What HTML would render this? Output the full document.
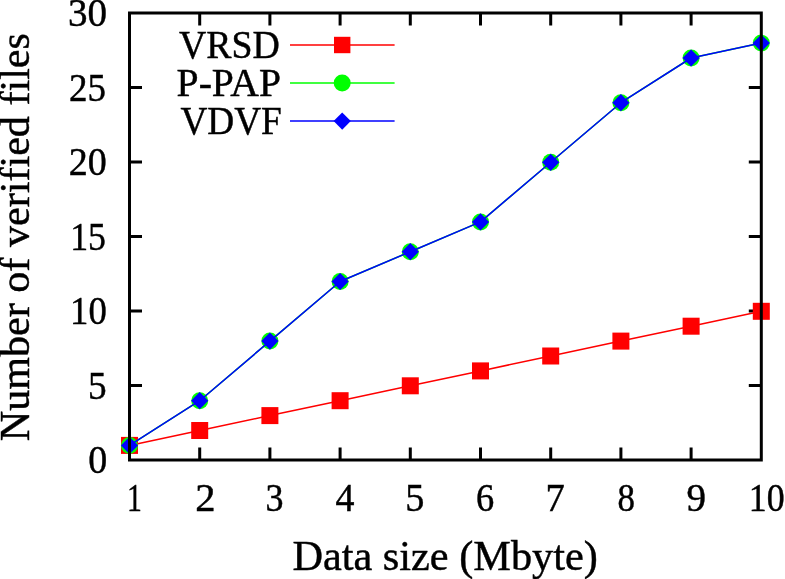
<!DOCTYPE html>
<html><head><meta charset="utf-8"><title>Number of verified files vs Data size</title>
<style>
html,body{margin:0;padding:0;background:#fff;width:785px;height:579px;overflow:hidden}
svg{display:block}
text{font-family:"Liberation Serif","Times New Roman",serif;font-size:39.5px;fill:#000;stroke:#000;stroke-width:0.45px}
</style></head><body>
<svg width="785" height="579" viewBox="0 0 785 579">
<rect width="785" height="579" fill="#fff"/>
<path d="M199.70,460.00V447.50M199.70,13.00V25.50M269.90,460.00V447.50M269.90,13.00V25.50M340.10,460.00V447.50M340.10,13.00V25.50M410.30,460.00V447.50M410.30,13.00V25.50M480.50,460.00V447.50M480.50,13.00V25.50M550.70,460.00V447.50M550.70,13.00V25.50M620.90,460.00V447.50M620.90,13.00V25.50M691.10,460.00V447.50M691.10,13.00V25.50M129.50,385.50H142.00M761.30,385.50H748.80M129.50,311.00H142.00M761.30,311.00H748.80M129.50,236.50H142.00M761.30,236.50H748.80M129.50,162.00H142.00M761.30,162.00H748.80M129.50,87.50H142.00M761.30,87.50H748.80" stroke="#000" stroke-width="3" fill="none"/>
<text x="178.90" y="57.8" style="font-size:39.5px" textLength="100.82" lengthAdjust="spacingAndGlyphs">VRSD</text>
<text x="176.60" y="95.9" style="font-size:39.5px" textLength="104.38" lengthAdjust="spacingAndGlyphs">P-PAP</text>
<text x="180.40" y="133.7" style="font-size:39.5px" textLength="101.46" lengthAdjust="spacingAndGlyphs">VDVF</text>
<text x="68.02" y="26.2" style="font-size:39.5px" textLength="39.06" lengthAdjust="spacingAndGlyphs">30</text>
<text x="68.96" y="100.7" style="font-size:39.5px" textLength="36.94" lengthAdjust="spacingAndGlyphs">25</text>
<text x="68.84" y="175.2" style="font-size:39.5px" textLength="38.01" lengthAdjust="spacingAndGlyphs">20</text>
<text x="70.18" y="249.7" style="font-size:39.5px" textLength="35.78" lengthAdjust="spacingAndGlyphs">15</text>
<text x="70.11" y="324.2" style="font-size:39.5px" textLength="36.68" lengthAdjust="spacingAndGlyphs">10</text>
<text x="88.01" y="398.7" style="font-size:39.5px" textLength="18.64" lengthAdjust="spacingAndGlyphs">5</text>
<text x="88.34" y="473.2" style="font-size:39.5px" textLength="18.98" lengthAdjust="spacingAndGlyphs">0</text>
<text x="126.94" y="511.4" style="font-size:39.5px" textLength="14.88" lengthAdjust="spacingAndGlyphs">1</text>
<text x="195.28" y="511.4" style="font-size:39.5px" textLength="20.21" lengthAdjust="spacingAndGlyphs">2</text>
<text x="265.48" y="511.4" style="font-size:39.5px" textLength="18.02" lengthAdjust="spacingAndGlyphs">3</text>
<text x="335.40" y="511.4" style="font-size:39.5px" textLength="18.92" lengthAdjust="spacingAndGlyphs">4</text>
<text x="405.36" y="511.4" style="font-size:39.5px" textLength="19.13" lengthAdjust="spacingAndGlyphs">5</text>
<text x="475.88" y="511.4" style="font-size:39.5px" textLength="18.21" lengthAdjust="spacingAndGlyphs">6</text>
<text x="545.45" y="511.4" style="font-size:39.5px" textLength="19.29" lengthAdjust="spacingAndGlyphs">7</text>
<text x="617.52" y="511.4" style="font-size:39.5px" textLength="17.45" lengthAdjust="spacingAndGlyphs">8</text>
<text x="686.51" y="511.4" style="font-size:39.5px" textLength="19.52" lengthAdjust="spacingAndGlyphs">9</text>
<text x="748.78" y="511.4" style="font-size:39.5px" textLength="35.78" lengthAdjust="spacingAndGlyphs">10</text>
<text x="292.40" y="569.6" style="font-size:42.5px" textLength="305.42" lengthAdjust="spacingAndGlyphs">Data size (Mbyte)</text>
<text transform="translate(29.2,441.29) rotate(-90)" style="font-size:42.5px" textLength="408.26" lengthAdjust="spacingAndGlyphs">Number of verified files</text>
<polyline points="129.50,445.40 199.70,430.50 269.90,415.60 340.10,400.70 410.30,385.80 480.50,370.90 550.70,356.00 620.90,341.10 691.10,326.20 761.30,311.30" fill="none" stroke="#ff0000" stroke-width="1.5" stroke-linejoin="round"/>
<rect x="121.00" y="436.90" width="17" height="17" fill="#ff0000"/><rect x="191.20" y="422.00" width="17" height="17" fill="#ff0000"/><rect x="261.40" y="407.10" width="17" height="17" fill="#ff0000"/><rect x="331.60" y="392.20" width="17" height="17" fill="#ff0000"/><rect x="401.80" y="377.30" width="17" height="17" fill="#ff0000"/><rect x="472.00" y="362.40" width="17" height="17" fill="#ff0000"/><rect x="542.20" y="347.50" width="17" height="17" fill="#ff0000"/><rect x="612.40" y="332.60" width="17" height="17" fill="#ff0000"/><rect x="682.60" y="317.70" width="17" height="17" fill="#ff0000"/><rect x="752.80" y="302.80" width="17" height="17" fill="#ff0000"/>
<path d="M290,45.0H394.6" stroke="#ff0000" stroke-width="1.5"/>
<rect x="334.00" y="36.80" width="16.4" height="16.4" fill="#ff0000"/>
<polyline points="129.50,445.40 199.70,400.70 269.90,341.10 340.10,281.50 410.30,251.70 480.50,221.90 550.70,162.30 620.90,102.70 691.10,58.00 761.30,43.10" fill="none" stroke="#00ff00" stroke-width="1.5" stroke-linejoin="round"/>
<circle cx="129.50" cy="445.40" r="8.5" fill="#00ff00"/><circle cx="199.70" cy="400.70" r="8.5" fill="#00ff00"/><circle cx="269.90" cy="341.10" r="8.5" fill="#00ff00"/><circle cx="340.10" cy="281.50" r="8.5" fill="#00ff00"/><circle cx="410.30" cy="251.70" r="8.5" fill="#00ff00"/><circle cx="480.50" cy="221.90" r="8.5" fill="#00ff00"/><circle cx="550.70" cy="162.30" r="8.5" fill="#00ff00"/><circle cx="620.90" cy="102.70" r="8.5" fill="#00ff00"/><circle cx="691.10" cy="58.00" r="8.5" fill="#00ff00"/><circle cx="761.30" cy="43.10" r="8.5" fill="#00ff00"/>
<path d="M290,83.0H394.6" stroke="#00ff00" stroke-width="1.5"/>
<circle cx="342.20" cy="83.00" r="8.5" fill="#00ff00"/>
<polyline points="129.50,445.40 199.70,400.70 269.90,341.10 340.10,281.50 410.30,251.70 480.50,221.90 550.70,162.30 620.90,102.70 691.10,58.00 761.30,43.10" fill="none" stroke="#0000ff" stroke-width="1.5" stroke-linejoin="round"/>
<path d="M120.90,445.40L129.50,436.80L138.10,445.40L129.50,454.00Z" fill="#0000ff"/><path d="M191.10,400.70L199.70,392.10L208.30,400.70L199.70,409.30Z" fill="#0000ff"/><path d="M261.30,341.10L269.90,332.50L278.50,341.10L269.90,349.70Z" fill="#0000ff"/><path d="M331.50,281.50L340.10,272.90L348.70,281.50L340.10,290.10Z" fill="#0000ff"/><path d="M401.70,251.70L410.30,243.10L418.90,251.70L410.30,260.30Z" fill="#0000ff"/><path d="M471.90,221.90L480.50,213.30L489.10,221.90L480.50,230.50Z" fill="#0000ff"/><path d="M542.10,162.30L550.70,153.70L559.30,162.30L550.70,170.90Z" fill="#0000ff"/><path d="M612.30,102.70L620.90,94.10L629.50,102.70L620.90,111.30Z" fill="#0000ff"/><path d="M682.50,58.00L691.10,49.40L699.70,58.00L691.10,66.60Z" fill="#0000ff"/><path d="M752.70,43.10L761.30,34.50L769.90,43.10L761.30,51.70Z" fill="#0000ff"/>
<path d="M290,121.1H394.6" stroke="#0000ff" stroke-width="1.5"/>
<path d="M333.60,121.10L342.20,112.50L350.80,121.10L342.20,129.70Z" fill="#0000ff"/>
<rect x="129.5" y="13.0" width="631.80" height="447.00" fill="none" stroke="#000" stroke-width="3"/>
</svg>
</body></html>
